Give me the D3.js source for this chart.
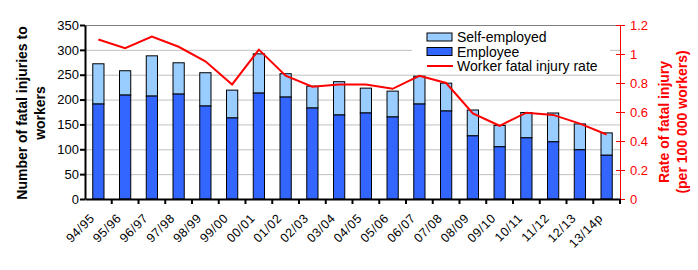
<!DOCTYPE html>
<html>
<head>
<meta charset="utf-8">
<script src="https://cdn.jsdelivr.net/npm/d3@7"></script>
<style>
  body { margin: 0; background: #fff; }
  svg { font-family: "Liberation Sans", Arial, sans-serif; }
</style>
</head>
<body>
<div id="chart"></div>
<script>
// data
const years = ['94/95','95/96','96/97','97/98','98/99','99/00','00/01','01/02','02/03','03/04',
               '04/05','05/06','06/07','07/08','08/09','09/10','10/11','11/12','12/13','13/14p'];
const employee = [191,209,207,211,187,163,213,205,183,169,173,165,191,177,127,105,123,115,99,88];
const total    = [272,258,288,274,254,219,292,252,227,236,223,217,247,233,179,148,174,173,151,133];
const rate     = [1.10,1.04,1.12,1.05,0.95,0.79,1.03,0.85,0.775,0.79,0.79,0.76,0.85,0.80,0.59,0.505,0.595,0.58,0.52,0.445];
const leftTicks  = [0,50,100,150,200,250,300,350];
const rightTicks = [0,0.2,0.4,0.6,0.8,1,1.2];

const W = 698, H = 270;
const m = {top:25, right:78, bottom:71, left:85};
const cw = W - m.left - m.right;
const ch = H - m.top - m.bottom;

const svg = d3.select('#chart').append('svg').attr('width',W).attr('height',H);
const g = svg.append('g').attr('transform',`translate(${m.left},${m.top})`);

const x = d3.scaleBand().domain(years).range([0,cw]);
const y = d3.scaleLinear().domain([0,350]).range([ch,0]);
const yR = d3.scaleLinear().domain([0,1.2]).range([ch,0]);

// gridlines
g.selectAll('.grid').data(leftTicks.slice(1)).enter().append('line')
  .attr('x1',0).attr('x2',cw)
  .attr('y1',d=>y(d)+0.5).attr('y2',d=>y(d)+0.5)
  .style('stroke',d=>d===350?'#808080':'#c0c0c0').style('stroke-width',1);

// bars
const bw = x.bandwidth()*0.42;
const bars = years.map((yr,i)=>({yr, emp:employee[i], tot:total[i]}));
g.selectAll('.self').data(bars).enter().append('rect')
  .attr('x',d=>x(d.yr)+(x.bandwidth()-bw)/2)
  .attr('y',d=>y(d.tot))
  .attr('width',bw)
  .attr('height',d=>y(d.emp)-y(d.tot))
  .style('fill','#99ccff').style('stroke','#000').style('stroke-width',1);
g.selectAll('.emp').data(bars).enter().append('rect')
  .attr('x',d=>x(d.yr)+(x.bandwidth()-bw)/2)
  .attr('y',d=>y(d.emp))
  .attr('width',bw)
  .attr('height',d=>y(0)-y(d.emp))
  .style('fill','#3366ff').style('stroke','#000').style('stroke-width',1);

// legend (white box hides gridlines)
const lg = g.append('g').attr('transform','translate(327,3)');
lg.append('rect').attr('x',0).attr('y',0).attr('width',198).attr('height',45).style('fill','#fff');
const legItems = [{t:'Self-employed',c:'#99ccff'},{t:'Employee',c:'#3366ff'},{t:'Worker fatal injury rate',c:'red'}];
legItems.forEach((d,i)=>{
  const yy = 9 + i*14.5;
  if (i<2) {
    lg.append('rect').attr('x',15).attr('y',yy-4).attr('width',25).attr('height',8)
      .style('fill',d.c).style('stroke','#000').style('stroke-width',1);
  } else {
    lg.append('line').attr('x1',15).attr('x2',41).attr('y1',yy).attr('y2',yy)
      .style('stroke','red').style('stroke-width',2);
  }
  lg.append('text').attr('x',45).attr('y',yy).attr('dy','0.36em')
    .style('font-size','14px').text(d.t);
});

// rate line
const line = d3.line().x((d,i)=>x(years[i])+x.bandwidth()/2).y(d=>yR(d));
g.append('path').datum(rate).attr('d',line)
  .style('fill','none').style('stroke','red').style('stroke-width',2);

// left axis
const yAxis = d3.axisLeft(y).tickValues(leftTicks).tickSize(5).tickSizeOuter(0);
const yA = g.append('g').call(yAxis);
yA.select('.domain').style('stroke-width',2);
yA.selectAll('.tick line').style('stroke-width',2);
yA.selectAll('text').style('font-size','13px').attr('x',-6);

// right axis
const yAxisR = d3.axisRight(yR).tickValues(rightTicks).tickSize(5).tickSizeOuter(0)
  .tickFormat(d=>String(d));
const yRA = g.append('g').attr('transform',`translate(${cw},0)`).call(yAxisR);
yRA.select('.domain').style('stroke','red');
yRA.selectAll('.tick line').style('stroke','red').attr('x1',-4);
yRA.selectAll('text').style('fill','red').style('font-size','13px').attr('x',10);

// x axis
const xAxis = d3.axisBottom(x).tickSize(0).tickSizeOuter(0);
const xA = g.append('g').attr('transform',`translate(0,${ch})`).call(xAxis);
xA.select('.domain').style('stroke-width',2);
xA.selectAll('.tick text')
  .style('font-size','12.5px').style('letter-spacing','0.6px').style('text-anchor','end')
  .attr('x',0).attr('y',0).attr('dy',0)
  .attr('transform','translate(-3,20) rotate(-45)');
// boundary ticks between categories
g.selectAll('.xtick').data(years.slice(1).concat(['end'])).enter().append('line')
  .attr('x1',(d,i)=>x.step()*(i+1)).attr('x2',(d,i)=>x.step()*(i+1))
  .attr('y1',ch).attr('y2',ch+5)
  .style('stroke','#000').style('stroke-width',2);

// axis titles
const lt = svg.append('text').attr('transform','translate(27,113) rotate(-90)')
  .style('font-weight','bold').style('font-size','14px').style('text-anchor','middle');
lt.append('tspan').attr('x',0).attr('y',0).text('Number of fatal injuries to');
lt.append('tspan').attr('x',0).attr('y',18).text('workers');

const rt = svg.append('text').attr('transform','translate(669,122) rotate(-90)')
  .style('font-weight','bold').style('font-size','14px').style('text-anchor','middle').style('fill','red');
rt.append('tspan').attr('x',0).attr('y',0).text('Rate of fatal injury');
rt.append('tspan').attr('x',0).attr('y',18).text('(per 100 000 workers)');
</script>
</body>
</html>
